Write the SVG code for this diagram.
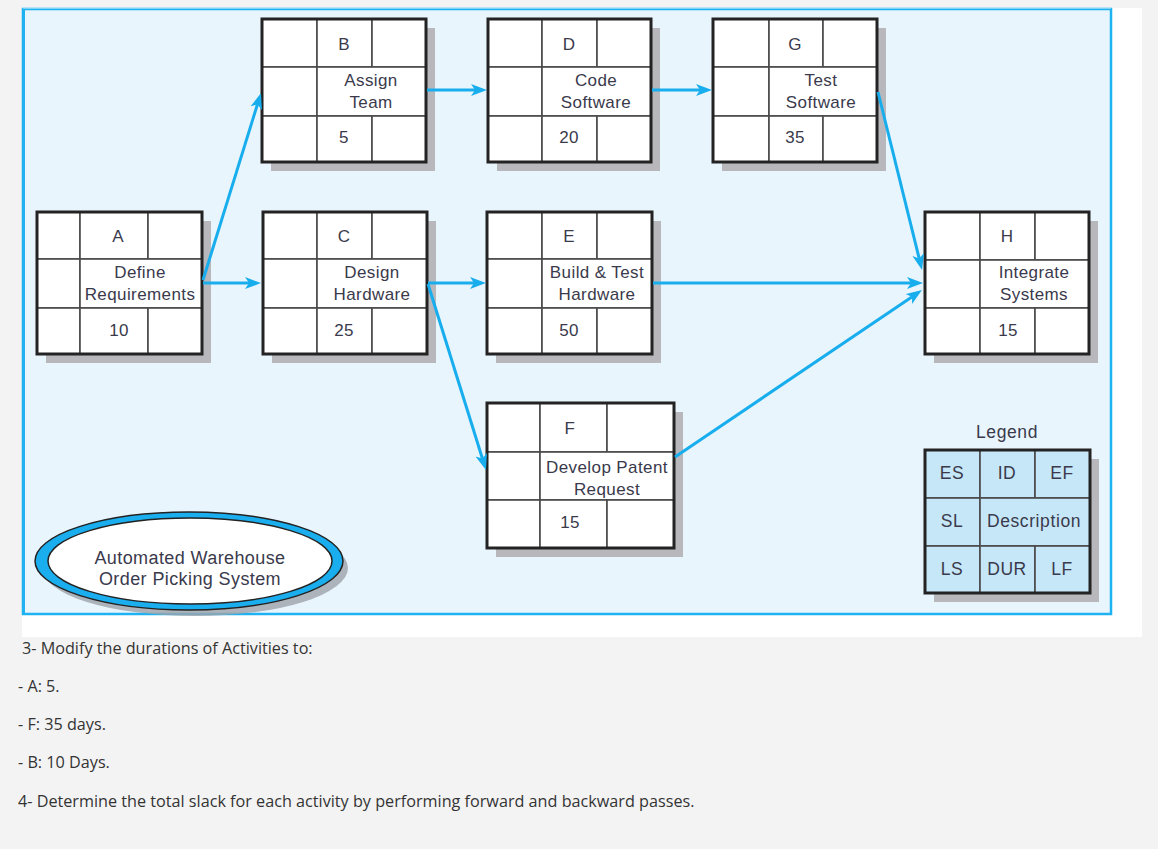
<svg xmlns="http://www.w3.org/2000/svg" width="1158" height="849" viewBox="0 0 1158 849">
<defs>
<style>
.bg{fill:#f3f3f3}
.shadow{fill:#b7b7bc}
.cell{fill:#ffffff;stroke:#4a4a4a;stroke-width:1.6}
.outer{fill:none;stroke:#232323;stroke-width:3}
.lg{fill:#c6e7f8}
.t{font-family:"Liberation Sans",Arial,sans-serif;font-size:17px;letter-spacing:0.4px;fill:#3a3a4c;text-anchor:middle}
.n{font-size:17px}
.l{font-size:17.5px;letter-spacing:0.6px}
.e{font-size:18px;letter-spacing:0.4px}
.arr{fill:none;stroke:#18aeee;stroke-width:3}
.q{font-family:"Open Sans","Liberation Sans",sans-serif;font-size:16.2px;fill:#333333}
</style>
<marker id="ah" markerUnits="userSpaceOnUse" markerWidth="17" markerHeight="13" refX="10" refY="6" orient="auto">
<path d="M0,0 L16,6 L0,12 L4,6 z" fill="#18aeee"/>
</marker>
</defs>
<rect class="bg" x="0" y="0" width="1158" height="849"/>
<rect x="22" y="8" width="1120" height="629" fill="#ffffff"/>
<rect x="23" y="9" width="1088" height="605" fill="#e9f5fd" stroke="#1fb2f2" stroke-width="2.5"/>
<line x1="23.5" y1="8" x2="23.5" y2="615" stroke="#1fb2f2" stroke-width="3"/>
<line x1="23" y1="8.5" x2="1111" y2="8.5" stroke="#7fd2f6" stroke-width="1"/>

<g id="nodeA">
<rect class="shadow" x="46" y="221" width="165" height="142"/>
<rect class="cell" x="37" y="212" width="43" height="47"/>
<rect class="cell" x="80" y="212" width="68" height="47"/>
<rect class="cell" x="148" y="212" width="54" height="47"/>
<rect class="cell" x="37" y="259" width="43" height="49"/>
<rect class="cell" x="80" y="259" width="122" height="49"/>
<rect class="cell" x="37" y="308" width="43" height="46"/>
<rect class="cell" x="80" y="308" width="68" height="46"/>
<rect class="cell" x="148" y="308" width="54" height="46"/>
<rect class="outer" x="37" y="212" width="165" height="142"/>
<text class="t" x="118" y="242">A</text>
<text class="t" x="140" y="278">Define</text>
<text class="t" x="140" y="300">Requirements</text>
<text class="t n" x="119" y="336">10</text>
</g>

<g id="nodeB">
<rect class="shadow" x="271" y="28" width="164" height="143"/>
<rect class="cell" x="262" y="19" width="55" height="48"/>
<rect class="cell" x="317" y="19" width="55" height="48"/>
<rect class="cell" x="372" y="19" width="54" height="48"/>
<rect class="cell" x="262" y="67" width="55" height="49"/>
<rect class="cell" x="317" y="67" width="109" height="49"/>
<rect class="cell" x="262" y="116" width="55" height="46"/>
<rect class="cell" x="317" y="116" width="55" height="46"/>
<rect class="cell" x="372" y="116" width="54" height="46"/>
<rect class="outer" x="262" y="19" width="164" height="143"/>
<text class="t" x="344" y="50">B</text>
<text class="t" x="371" y="86">Assign</text>
<text class="t" x="371" y="108">Team</text>
<text class="t n" x="344" y="143">5</text>
</g>

<g id="nodeD">
<rect class="shadow" x="497" y="28" width="163" height="143"/>
<rect class="cell" x="488" y="19" width="54" height="48"/>
<rect class="cell" x="542" y="19" width="55" height="48"/>
<rect class="cell" x="597" y="19" width="54" height="48"/>
<rect class="cell" x="488" y="67" width="54" height="49"/>
<rect class="cell" x="542" y="67" width="109" height="49"/>
<rect class="cell" x="488" y="116" width="54" height="46"/>
<rect class="cell" x="542" y="116" width="55" height="46"/>
<rect class="cell" x="597" y="116" width="54" height="46"/>
<rect class="outer" x="488" y="19" width="163" height="143"/>
<text class="t" x="569" y="50">D</text>
<text class="t" x="596" y="86">Code</text>
<text class="t" x="596" y="108">Software</text>
<text class="t n" x="569" y="143">20</text>
</g>

<g id="nodeG">
<rect class="shadow" x="722" y="28" width="164" height="143"/>
<rect class="cell" x="713" y="19" width="56" height="48"/>
<rect class="cell" x="769" y="19" width="54" height="48"/>
<rect class="cell" x="823" y="19" width="54" height="48"/>
<rect class="cell" x="713" y="67" width="56" height="49"/>
<rect class="cell" x="769" y="67" width="108" height="49"/>
<rect class="cell" x="713" y="116" width="56" height="46"/>
<rect class="cell" x="769" y="116" width="54" height="46"/>
<rect class="cell" x="823" y="116" width="54" height="46"/>
<rect class="outer" x="713" y="19" width="164" height="143"/>
<text class="t" x="795" y="50">G</text>
<text class="t" x="821" y="86">Test</text>
<text class="t" x="821" y="108">Software</text>
<text class="t n" x="795" y="143">35</text>
</g>

<g id="nodeC">
<rect class="shadow" x="272" y="221" width="164" height="142"/>
<rect class="cell" x="263" y="212" width="54" height="47"/>
<rect class="cell" x="317" y="212" width="55" height="47"/>
<rect class="cell" x="372" y="212" width="55" height="47"/>
<rect class="cell" x="263" y="259" width="54" height="49"/>
<rect class="cell" x="317" y="259" width="110" height="49"/>
<rect class="cell" x="263" y="308" width="54" height="46"/>
<rect class="cell" x="317" y="308" width="55" height="46"/>
<rect class="cell" x="372" y="308" width="55" height="46"/>
<rect class="outer" x="263" y="212" width="164" height="142"/>
<text class="t" x="344" y="242">C</text>
<text class="t" x="372" y="278">Design</text>
<text class="t" x="372" y="300">Hardware</text>
<text class="t n" x="344" y="336">25</text>
</g>

<g id="nodeE">
<rect class="shadow" x="496" y="221" width="165" height="142"/>
<rect class="cell" x="487" y="212" width="55" height="47"/>
<rect class="cell" x="542" y="212" width="55" height="47"/>
<rect class="cell" x="597" y="212" width="55" height="47"/>
<rect class="cell" x="487" y="259" width="55" height="49"/>
<rect class="cell" x="542" y="259" width="110" height="49"/>
<rect class="cell" x="487" y="308" width="55" height="46"/>
<rect class="cell" x="542" y="308" width="55" height="46"/>
<rect class="cell" x="597" y="308" width="55" height="46"/>
<rect class="outer" x="487" y="212" width="165" height="142"/>
<text class="t" x="569" y="242">E</text>
<text class="t" x="597" y="278">Build &amp; Test</text>
<text class="t" x="597" y="300">Hardware</text>
<text class="t n" x="569" y="336">50</text>
</g>

<g id="nodeF">
<rect class="shadow" x="496" y="412" width="187" height="145"/>
<rect class="cell" x="487" y="403" width="53" height="49"/>
<rect class="cell" x="540" y="403" width="67" height="49"/>
<rect class="cell" x="607" y="403" width="67" height="49"/>
<rect class="cell" x="487" y="452" width="53" height="48"/>
<rect class="cell" x="540" y="452" width="134" height="48"/>
<rect class="cell" x="487" y="500" width="53" height="48"/>
<rect class="cell" x="540" y="500" width="67" height="48"/>
<rect class="cell" x="607" y="500" width="67" height="48"/>
<rect class="outer" x="487" y="403" width="187" height="145"/>
<text class="t" x="570" y="434">F</text>
<text class="t" x="607" y="473">Develop Patent</text>
<text class="t" x="607" y="495">Request</text>
<text class="t n" x="570" y="528">15</text>
</g>

<g id="nodeH">
<rect class="shadow" x="934" y="221" width="164" height="142"/>
<rect class="cell" x="925" y="212" width="55" height="48"/>
<rect class="cell" x="980" y="212" width="55" height="48"/>
<rect class="cell" x="1035" y="212" width="54" height="48"/>
<rect class="cell" x="925" y="260" width="55" height="48"/>
<rect class="cell" x="980" y="260" width="109" height="48"/>
<rect class="cell" x="925" y="308" width="55" height="46"/>
<rect class="cell" x="980" y="308" width="55" height="46"/>
<rect class="cell" x="1035" y="308" width="54" height="46"/>
<rect class="outer" x="925" y="212" width="164" height="142"/>
<text class="t" x="1007" y="242">H</text>
<text class="t" x="1034" y="278">Integrate</text>
<text class="t" x="1034" y="300">Systems</text>
<text class="t n" x="1008" y="336">15</text>
</g>

<g id="legend">
<text class="t l" x="1007" y="438">Legend</text>
<rect class="shadow" x="934" y="459" width="165" height="143"/>
<rect class="cell lg" x="925" y="450" width="55" height="48"/>
<rect class="cell lg" x="980" y="450" width="55" height="48"/>
<rect class="cell lg" x="1035" y="450" width="55" height="48"/>
<rect class="cell lg" x="925" y="498" width="55" height="48"/>
<rect class="cell lg" x="980" y="498" width="110" height="48"/>
<rect class="cell lg" x="925" y="546" width="55" height="47"/>
<rect class="cell lg" x="980" y="546" width="55" height="47"/>
<rect class="cell lg" x="1035" y="546" width="55" height="47"/>
<rect class="outer" x="925" y="450" width="165" height="143"/>
<text class="t l" x="952" y="479">ES</text>
<text class="t l" x="1007" y="479">ID</text>
<text class="t l" x="1062" y="479">EF</text>
<text class="t l" x="952" y="527">SL</text>
<text class="t l" x="1034" y="527">Description</text>
<text class="t l" x="952" y="575">LS</text>
<text class="t l" x="1007" y="575">DUR</text>
<text class="t l" x="1062" y="575">LF</text>
</g>

<g id="title">
<ellipse cx="195" cy="568" rx="153" ry="48" fill="#9ea3aa" opacity="0.8"/>
<ellipse cx="189" cy="561" rx="154" ry="49" fill="#1aaeee" stroke="#222222" stroke-width="1.5"/>
<ellipse cx="190" cy="561" rx="142" ry="43" fill="#ffffff" stroke="#222222" stroke-width="1.5"/>
<text class="t e" x="190" y="564">Automated Warehouse</text>
<text class="t e" x="190" y="585">Order Picking System</text>
</g>

<g id="connectors">
<line class="arr" x1="203" y1="280" x2="259.2" y2="98.7" marker-end="url(#ah)"/>
<line class="arr" x1="203" y1="283" x2="255" y2="283" marker-end="url(#ah)"/>
<line class="arr" x1="427" y1="90" x2="481" y2="90" marker-end="url(#ah)"/>
<line class="arr" x1="652" y1="90" x2="706" y2="90" marker-end="url(#ah)"/>
<line class="arr" x1="428" y1="283" x2="480" y2="283" marker-end="url(#ah)"/>
<line class="arr" x1="428" y1="284" x2="484.2" y2="464.3" marker-end="url(#ah)"/>
<line class="arr" x1="653" y1="283" x2="917" y2="283" marker-end="url(#ah)"/>
<line class="arr" x1="878" y1="92" x2="920.6" y2="264.2" marker-end="url(#ah)"/>
<line class="arr" x1="675" y1="457" x2="917" y2="293.4" marker-end="url(#ah)"/>
</g>

<g id="questions">
<text class="q" x="22" y="654">3- Modify the durations of Activities to:</text>
<text class="q" x="18" y="692">- A: 5.</text>
<text class="q" x="18" y="730">- F: 35 days.</text>
<text class="q" x="18" y="768">- B: 10 Days.</text>
<text class="q" x="18" y="807">4- Determine the total slack for each activity by performing forward and backward passes.</text>
</g>
</svg>
